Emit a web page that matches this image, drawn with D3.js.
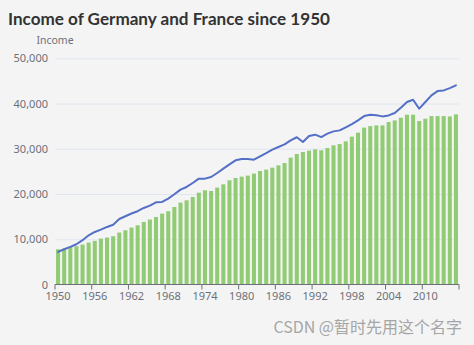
<!DOCTYPE html>
<html>
<head>
<meta charset="utf-8">
<script src="https://cdn.jsdelivr.net/npm/d3@7"></script>
<style>
  html, body { margin: 0; padding: 0; background: #f4f4f4; }
  svg { display: block; }
</style>
</head>
<body>
<svg id="chart" width="474" height="345"></svg>
<script>
const years = [1950,1951,1952,1953,1954,1955,1956,1957,1958,1959,
  1960,1961,1962,1963,1964,1965,1966,1967,1968,1969,
  1970,1971,1972,1973,1974,1975,1976,1977,1978,1979,
  1980,1981,1982,1983,1984,1985,1986,1987,1988,1989,
  1990,1991,1992,1993,1994,1995,1996,1997,1998,1999,
  2000,2001,2002,2003,2004,2005,2006,2007,2008,2009,
  2010,2011,2012,2013,2014,2015];

// France income (bars)
const franceIncome = [7790,7940,8310,8460,8830,9270,9640,10150,10370,10670,
  11480,11990,12590,13090,13830,14350,14930,15670,16190,17140,
  18100,18610,19350,20300,20820,20670,21410,22150,23030,23540,
  23840,24070,24510,25090,25390,25830,26340,26850,28040,28850,
  29290,29580,29880,29660,30170,30760,31050,31640,32680,33560,
  34670,35020,35170,35170,35910,36280,36870,37530,37530,36130,
  36650,37230,37230,37230,37160,37600];

// Germany income (line)
const germanyIncome = [7200,7790,8310,8900,9790,10870,11610,12130,12720,13220,
  14480,15080,15700,16200,16920,17440,18170,18240,18990,19940,
  20980,21560,22440,23400,23400,23760,24650,25610,26560,27450,
  27740,27740,27600,28330,29060,29800,30390,30980,31860,32550,
  31490,32810,33120,32590,33340,33850,34070,34730,35460,36280,
  37230,37530,37420,37160,37380,37900,39080,40330,40850,38860,
  40330,41800,42750,42900,43410,44010];

const xTickLabels = [1950,1956,1962,1968,1974,1980,1986,1992,1998,2004,2010];
const yTicks = [0,10000,20000,30000,40000,50000];

const titleText = "Income of Germany and France since 1950";
const yAxisName = "Income";
const watermark = "CSDN @暂时先用这个名字";

const svg = d3.select("#chart");
const plotLeft = 55, plotRight = 459, plotTop = 58.3, plotBottom = 284.5;
const fontUI = "'Noto Sans', 'Open Sans', sans-serif";

const x = d3.scaleBand().domain(years).range([plotLeft, plotRight]).paddingInner(0).paddingOuter(0);
const y = d3.scaleLinear().domain([0, 50000]).range([plotBottom, plotTop]);

// title
const title = svg.append("text")
  .attr("x", 8).attr("y", 24.5)
  .attr("font-family", "Lato, 'Noto Sans', sans-serif")
  .attr("font-weight", "bold")
  .attr("font-size", 17.5)
  .attr("fill", "#333")
  .text(titleText);
const tw = title.node().getComputedTextLength();
if (Math.abs(tw - 322) > 3) {
  title.attr("textLength", 322).attr("lengthAdjust", "spacingAndGlyphs");
}

// y axis name
svg.append("text")
  .attr("x", plotLeft).attr("y", 43.5)
  .attr("text-anchor", "middle")
  .attr("font-family", fontUI)
  .attr("font-size", 10.5)
  .attr("fill", "#6e7079")
  .text(yAxisName);

// gridlines + y labels
const yAxis = d3.axisLeft(y).tickValues(yTicks)
  .tickSize(-(plotRight - plotLeft)).tickPadding(7)
  .tickFormat(d3.format(","));
const gy = svg.append("g").attr("transform", `translate(${plotLeft},0)`).call(yAxis);
gy.select(".domain").remove();
gy.selectAll(".tick line").attr("stroke", "#e0e6f1").attr("stroke-width", 1)
  .filter(d => d === 0).remove();
gy.selectAll(".tick text")
  .attr("font-family", fontUI).attr("font-size", 11).attr("fill", "#6e7079");

// bars
const bw = x.bandwidth() * 0.66;
svg.append("g").selectAll("rect")
  .data(years)
  .join("rect")
  .attr("x", (d) => x(d) + (x.bandwidth() - bw) / 2)
  .attr("width", bw)
  .attr("y", (d, i) => y(franceIncome[i]))
  .attr("height", (d, i) => y(0) - y(franceIncome[i]))
  .attr("fill", "#91cc75");

// line
const line = d3.line()
  .x((d, i) => x(years[i]) + x.bandwidth() / 2)
  .y(d => y(d));
svg.append("path")
  .datum(germanyIncome)
  .attr("d", line)
  .attr("fill", "none")
  .attr("stroke", "#5470c6")
  .attr("stroke-width", 2)
  .attr("stroke-linejoin", "round")
  .attr("stroke-linecap", "round");

// x axis
const gx = svg.append("g").attr("transform", `translate(0,${plotBottom})`);
gx.append("line").attr("x1", plotLeft).attr("x2", plotRight)
  .attr("stroke", "#6e7079").attr("stroke-width", 1);
const tickPos = xTickLabels.map(v => x(v)).concat([plotRight]);
gx.selectAll("line.tk").data(tickPos).join("line").attr("class", "tk")
  .attr("x1", d => d).attr("x2", d => d).attr("y1", 0).attr("y2", 5)
  .attr("stroke", "#6e7079").attr("stroke-width", 1);
gx.selectAll("text").data(xTickLabels).join("text")
  .attr("x", d => x(d) + x.bandwidth() / 2)
  .attr("y", 15.5)
  .attr("text-anchor", "middle")
  .attr("font-family", fontUI).attr("font-size", 11).attr("fill", "#6e7079")
  .text(d => d);

// watermark
svg.append("text")
  .attr("x", 462).attr("y", 333)
  .attr("text-anchor", "end")
  .attr("font-family", "'Noto Sans CJK SC', sans-serif")
  .attr("font-size", 16)
  .attr("fill", "#a6a6a6")
  .text(watermark);
</script>
</body>
</html>
